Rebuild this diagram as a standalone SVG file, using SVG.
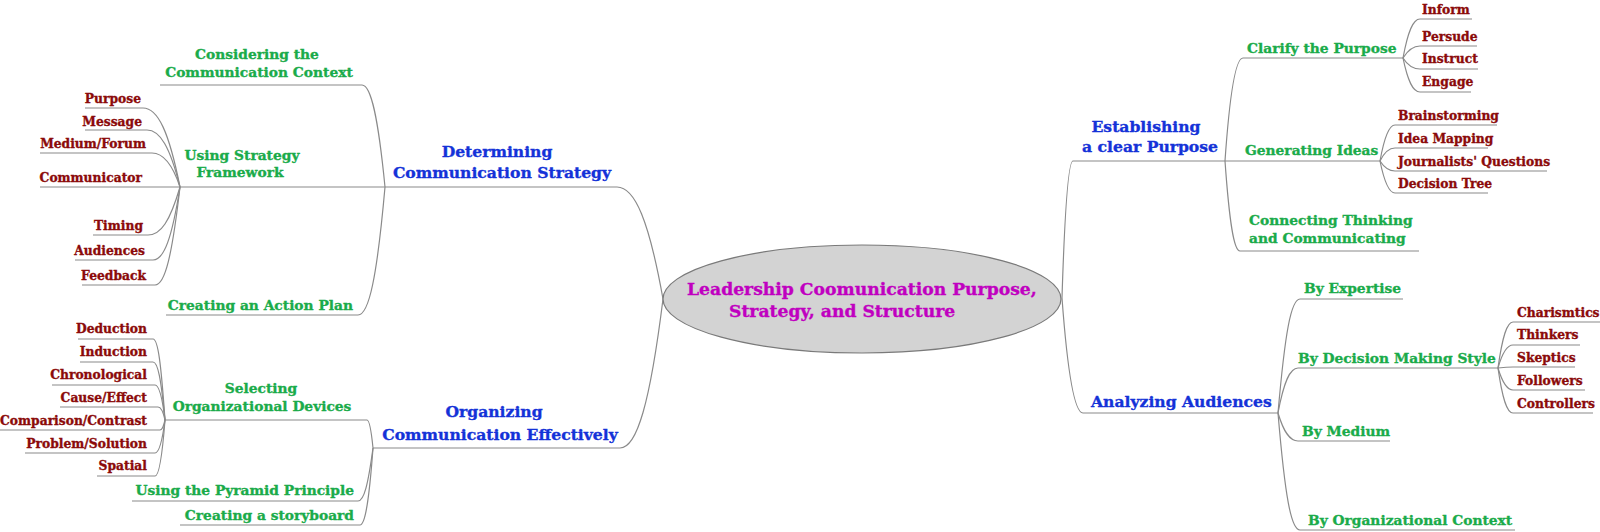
<svg xmlns="http://www.w3.org/2000/svg" width="1600" height="532" viewBox="0 0 1600 532">
<style>
text{font-family:"DejaVu Serif","Liberation Serif",serif;font-weight:bold;stroke-width:0.35}
.r{fill:#8b0a0a;stroke:#8b0a0a;font-size:12.3px}
.g{fill:#1aab4a;stroke:#1aab4a;font-size:13.8px}
.b{fill:#1432d8;stroke:#1432d8;font-size:15.6px}
.m{fill:#c000c0;stroke:#c000c0;font-size:17.2px}
.e{text-anchor:end}
.c{text-anchor:middle}
#connectors path{fill:none;stroke:#8a8a8a;stroke-width:1.2}
</style>
<rect width="1600" height="532" fill="#ffffff"/>
<g id="connectors">
<path d="M663,299 C649,221 635,187 617,187 L385,187"/>
<path d="M663,299 C650,403 637,448 620,448 L373,448"/>
<path d="M385,187 C378,116 371,85 362,85 L160,85"/>
<path d="M385,187 L180,187"/>
<path d="M385,187 C377,277 369,315 358,315 L166,315"/>
<path d="M180,187 C169,132 158,108 143,108 L85,108"/>
<path d="M180,187 C170,147 160,130 147,130 L85,130"/>
<path d="M180,187 C172,163 163,153 152,153 L40,153"/>
<path d="M180,187 L40,187"/>
<path d="M180,187 C170,221 161,235 148,235 L93,235"/>
<path d="M180,187 C172,238 164,260 153,260 L75,260"/>
<path d="M180,187 C172,256 165,285 155,285 L82,285"/>
<path d="M373,448 C371,428 369,420 367,420 L165,420"/>
<path d="M373,448 C368,485 364,501 358,501 L132,501"/>
<path d="M373,448 C369,502 365,525 360,525 L180,525"/>
<path d="M165,420 C161,363 158,339 153,339 L78,339"/>
<path d="M165,420 C161,379 158,362 153,362 L80,362"/>
<path d="M165,420 C162,395 159,385 155,385 L52,385"/>
<path d="M165,420 C163,411 161,407 158,407 L60,407"/>
<path d="M165,420 C163.5,427 162,430 160,430 L0,430"/>
<path d="M165,420 C162,443 159,453 155,453 L25,453"/>
<path d="M165,420 C162,459 159,476 155,476 L97,476"/>
<path d="M1062,298 C1065,202 1069,161 1073,161 L1225,161"/>
<path d="M1062,298 C1068,379 1075,413 1083,413 L1278,413"/>
<path d="M1225,161 C1230,89 1236,58 1243,58 L1403,58"/>
<path d="M1225,161 L1380,161"/>
<path d="M1225,161 C1229.5,224 1234,251 1240,251 L1419,251"/>
<path d="M1403,58 C1408,31 1413,19 1420,19 L1472,19"/>
<path d="M1403,58 C1408,50 1413,46 1420,46 L1477,46"/>
<path d="M1403,58 C1408,66 1413,69 1420,69 L1478,69"/>
<path d="M1403,58 C1408,82 1413,92 1420,92 L1471,92"/>
<path d="M1380,161 C1384.5,136 1389,125 1395,125 L1497,125"/>
<path d="M1380,161 C1384.5,152 1389,148 1395,148 L1488,148"/>
<path d="M1380,161 C1384.5,168 1389,171 1395,171 L1547,171"/>
<path d="M1380,161 C1384.5,183 1389,193 1395,193 L1488,193"/>
<path d="M1278,413 C1285,333 1291,299 1300,299 L1403,299"/>
<path d="M1278,413 C1284,381 1290,368 1298,368 L1498,368"/>
<path d="M1278,413 C1284,433 1290,441 1298,441 L1390,441"/>
<path d="M1278,413 C1285,496 1291,530 1300,530 L1515,530"/>
<path d="M1498,368 C1502.5,336 1507,322 1513,322 L1600,322"/>
<path d="M1498,368 C1502.5,352 1507,345 1513,345 L1580,345"/>
<path d="M1498,368 C1502.5,367.5 1507,367 1513,367 L1575,367"/>
<path d="M1498,368 C1502.5,383 1507,390 1513,390 L1585,390"/>
<path d="M1498,368 C1502.5,399.5 1507,413 1513,413 L1593,413"/>
</g>
<g id="root">
<ellipse cx="862" cy="299" rx="199" ry="54" fill="#d3d3d3" stroke="#7a7a7a" stroke-width="1.2"/>
<text class="m" x="687" y="295">Leadership Coomunication Purpose,</text>
<text class="m" x="729" y="317">Strategy, and Structure</text>
</g>
<g id="determining"><text class="b c" x="497" y="157">Determining</text><text class="b c" x="502" y="178">Communication Strategy</text></g>
<g id="organizing"><text class="b c" x="494" y="417">Organizing</text><text class="b c" x="500" y="440">Communication Effectively</text></g>
<g id="considering"><text class="g c" x="257" y="59">Considering the</text><text class="g c" x="259" y="77">Communication Context</text></g>
<g id="using-strategy"><text class="g c" x="242" y="160">Using Strategy</text><text class="g c" x="240" y="177">Framework</text></g>
<g id="action-plan"><text class="g e" x="353" y="310">Creating an Action Plan</text></g>
<g id="purpose"><text class="r e" x="141" y="103">Purpose</text></g>
<g id="message"><text class="r e" x="142" y="126">Message</text></g>
<g id="medium-forum"><text class="r e" x="146" y="148">Medium/Forum</text></g>
<g id="communicator"><text class="r e" x="142" y="182">Communicator</text></g>
<g id="timing"><text class="r e" x="143" y="230">Timing</text></g>
<g id="audiences"><text class="r e" x="145" y="255">Audiences</text></g>
<g id="feedback"><text class="r e" x="146" y="280">Feedback</text></g>
<g id="selecting"><text class="g c" x="261" y="393">Selecting</text><text class="g c" x="262" y="411">Organizational Devices</text></g>
<g id="pyramid"><text class="g e" x="354" y="495">Using the Pyramid Principle</text></g>
<g id="storyboard"><text class="g e" x="354" y="520">Creating a storyboard</text></g>
<g id="deduction"><text class="r e" x="147" y="333">Deduction</text></g>
<g id="induction"><text class="r e" x="147" y="356">Induction</text></g>
<g id="chronological"><text class="r e" x="147" y="379">Chronological</text></g>
<g id="cause-effect"><text class="r e" x="147" y="402">Cause/Effect</text></g>
<g id="comparison"><text class="r e" x="147" y="425">Comparison/Contrast</text></g>
<g id="problem"><text class="r e" x="147" y="448">Problem/Solution</text></g>
<g id="spatial"><text class="r e" x="147" y="470">Spatial</text></g>
<g id="establishing"><text class="b c" x="1146" y="132">Establishing</text><text class="b c" x="1150" y="152">a clear Purpose</text></g>
<g id="analyzing"><text class="b" x="1091" y="407">Analyzing Audiences</text></g>
<g id="clarify"><text class="g" x="1247" y="53">Clarify the Purpose</text></g>
<g id="generating"><text class="g" x="1245" y="155">Generating Ideas</text></g>
<g id="connecting"><text class="g" x="1249" y="225">Connecting Thinking</text><text class="g" x="1249" y="243">and Communicating</text></g>
<g id="inform"><text class="r" x="1422" y="14">Inform</text></g>
<g id="persude"><text class="r" x="1422" y="41">Persude</text></g>
<g id="instruct"><text class="r" x="1422" y="63">Instruct</text></g>
<g id="engage"><text class="r" x="1422" y="86">Engage</text></g>
<g id="brainstorming"><text class="r" x="1398" y="120">Brainstorming</text></g>
<g id="idea-mapping"><text class="r" x="1398" y="143">Idea Mapping</text></g>
<g id="journalists"><text class="r" x="1398" y="166">Journalists' Questions</text></g>
<g id="decision-tree"><text class="r" x="1398" y="188">Decision Tree</text></g>
<g id="expertise"><text class="g" x="1304" y="293">By Expertise</text></g>
<g id="decision-style"><text class="g" x="1298" y="363">By Decision Making Style</text></g>
<g id="medium"><text class="g" x="1302" y="436">By Medium</text></g>
<g id="org-context"><text class="g" x="1308" y="525">By Organizational Context</text></g>
<g id="charismtics"><text class="r" x="1517" y="317">Charismtics</text></g>
<g id="thinkers"><text class="r" x="1517" y="339">Thinkers</text></g>
<g id="skeptics"><text class="r" x="1517" y="362">Skeptics</text></g>
<g id="followers"><text class="r" x="1517" y="385">Followers</text></g>
<g id="controllers"><text class="r" x="1517" y="408">Controllers</text></g>
</svg>
